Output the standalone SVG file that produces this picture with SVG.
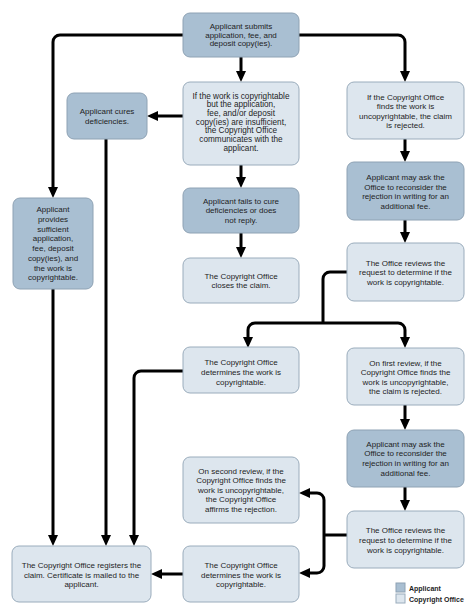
<svg xmlns="http://www.w3.org/2000/svg" width="474" height="613" viewBox="0 0 474 613">
<style>
.app{fill:#a9bfd2;stroke:#8ea2b4;stroke-width:1}
.off{fill:#dde6ee;stroke:#9aacbc;stroke-width:1}
text{font-family:"Liberation Sans",Arial,sans-serif;font-size:8px;fill:#1e1e1e;text-anchor:middle}
.big{font-size:8.2px}
.lg{font-size:7px;font-weight:bold;text-anchor:start}
.c{fill:none;stroke:#000;stroke-width:3}
.a{marker-end:url(#ah)}
</style>
<defs>
<marker id="ah" markerUnits="userSpaceOnUse" markerWidth="12" markerHeight="11" refX="3" refY="5" orient="auto">
<path d="M0,0 L11,5 L0,10 z" fill="#000"/>
</marker>
</defs>
<rect width="474" height="613" fill="#fff"/>
<g id="connectors">
<path class="c a" d="M183,35 H60 A7,7 0 0 0 53,42 V190"/>
<path class="c a" d="M299,35 H398 A7,7 0 0 1 405,42 V74"/>
<path class="c a" d="M241,57 V74"/>
<path class="c a" d="M183,116 H155"/>
<path class="c a" d="M106,139 V538"/>
<path class="c a" d="M53,289 V538"/>
<path class="c a" d="M241,165 V180"/>
<path class="c a" d="M241,233 V250"/>
<path class="c a" d="M405,139 V154"/>
<path class="c a" d="M405,220 V235"/>
<path class="c" d="M347,272 H330 A7,7 0 0 0 323,279 V323"/>
<path class="c a" d="M323,323 H255 A7,7 0 0 0 248,330 V340"/>
<path class="c a" d="M323,323 H398 A7,7 0 0 1 405,330 V340"/>
<path class="c a" d="M183,371 H141 A7,7 0 0 0 134,378 V538"/>
<path class="c a" d="M405,405 V422"/>
<path class="c a" d="M405,487 V503"/>
<path class="c" d="M347,535 H324"/>
<path class="c a" d="M324,535 V500 A7,7 0 0 0 317,493 H307"/>
<path class="c a" d="M324,535 V566 A7,7 0 0 1 317,573 H307"/>
<path class="c a" d="M183,574 H159"/>
</g>
<g id="n_submit">
<rect class="app" x="183" y="13" width="116" height="44" rx="7"/>
<text x="241" y="29">Applicant submits</text>
<text x="241" y="37.5">application, fee, and</text>
<text x="241" y="46">deposit copy(ies).</text>
</g>
<g id="n_insufficient">
<rect class="off" x="183" y="82" width="116" height="83" rx="7"/>
<text class="big" x="241" y="98.5">If the work is copyrightable</text>
<text class="big" x="241" y="107.2">but the application,</text>
<text class="big" x="241" y="115.9">fee, and/or deposit</text>
<text class="big" x="241" y="124.6">copy(ies) are insufficient,</text>
<text class="big" x="241" y="133.3">the Copyright Office</text>
<text class="big" x="241" y="142">communicates with the</text>
<text class="big" x="241" y="150.7">applicant.</text>
</g>
<g id="n_cures">
<rect class="app" x="67" y="93" width="80" height="46" rx="7"/>
<text x="107" y="114">Applicant cures</text>
<text x="107" y="123.5">deficiencies.</text>
</g>
<g id="n_reject1">
<rect class="off" x="347" y="82" width="117" height="57" rx="7"/>
<text x="405.5" y="99.5">If the Copyright Office</text>
<text x="405.5" y="109">finds the work is</text>
<text x="405.5" y="118.5">uncopyrightable, the claim</text>
<text x="405.5" y="128">is rejected.</text>
</g>
<g id="n_ask1">
<rect class="app" x="347" y="162" width="117" height="58" rx="7"/>
<text x="405.5" y="180">Applicant may ask the</text>
<text x="405.5" y="189.6">Office to reconsider the</text>
<text x="405.5" y="199.2">rejection in writing for an</text>
<text x="405.5" y="208.8">additional fee.</text>
</g>
<g id="n_review1">
<rect class="off" x="347" y="243" width="117" height="58" rx="7"/>
<text x="405.5" y="265.5">The Office reviews the</text>
<text x="405.5" y="275.2">request to determine if the</text>
<text x="405.5" y="284.9">work is copyrightable.</text>
</g>
<g id="n_fails">
<rect class="app" x="183" y="188" width="116" height="45" rx="7"/>
<text x="241" y="203.6">Applicant fails to cure</text>
<text x="241" y="213.3">deficiencies or does</text>
<text x="241" y="223">not reply.</text>
</g>
<g id="n_closes">
<rect class="off" x="183" y="258" width="116" height="45" rx="7"/>
<text x="241" y="278.5">The Copyright Office</text>
<text x="241" y="288.2">closes the claim.</text>
</g>
<g id="n_provides">
<rect class="app" x="13" y="198" width="80" height="91" rx="7"/>
<text x="53" y="212.3">Applicant</text>
<text x="53" y="222">provides</text>
<text x="53" y="231.7">sufficient</text>
<text x="53" y="241.4">application,</text>
<text x="53" y="251.1">fee, deposit</text>
<text x="53" y="260.8">copy(ies), and</text>
<text x="53" y="270.5">the work is</text>
<text x="53" y="280.2">copyrightable.</text>
</g>
<g id="n_copyrightable1">
<rect class="off" x="183" y="347" width="116" height="46" rx="7"/>
<text x="241" y="364.7">The Copyright Office</text>
<text x="241" y="374.7">determines the work is</text>
<text x="241" y="384.7">copyrightable.</text>
</g>
<g id="n_first">
<rect class="off" x="347" y="348" width="117" height="57" rx="7"/>
<text x="405.5" y="365.5">On first review, if the</text>
<text x="405.5" y="375.1">Copyright Office finds the</text>
<text x="405.5" y="384.7">work is uncopyrightable,</text>
<text x="405.5" y="394.3">the claim is rejected.</text>
</g>
<g id="n_ask2">
<rect class="app" x="347" y="430" width="117" height="57" rx="7"/>
<text x="405.5" y="446.7">Applicant may ask the</text>
<text x="405.5" y="456.3">Office to reconsider the</text>
<text x="405.5" y="465.9">rejection in writing for an</text>
<text x="405.5" y="475.5">additional fee.</text>
</g>
<g id="n_review2">
<rect class="off" x="347" y="511" width="117" height="57" rx="7"/>
<text x="405.5" y="533.2">The Office reviews the</text>
<text x="405.5" y="542.9">request to determine if the</text>
<text x="405.5" y="552.6">work is copyrightable.</text>
</g>
<g id="n_second">
<rect class="off" x="183" y="457" width="116" height="66" rx="7"/>
<text x="241" y="473.7">On second review, if the</text>
<text x="241" y="483.2">Copyright Office finds the</text>
<text x="241" y="492.7">work is uncopyrightable,</text>
<text x="241" y="502.2">the Copyright Office</text>
<text x="241" y="511.7">affirms the rejection.</text>
</g>
<g id="n_copyrightable2">
<rect class="off" x="183" y="546" width="116" height="56" rx="7"/>
<text x="241" y="568">The Copyright Office</text>
<text x="241" y="577.7">determines the work is</text>
<text x="241" y="587.4">copyrightable.</text>
</g>
<g id="n_register">
<rect class="off" x="12" y="546" width="139" height="56" rx="7"/>
<text x="81.5" y="568">The Copyright Office registers the</text>
<text x="81.5" y="577.7">claim.  Certificate is mailed to the</text>
<text x="81.5" y="587.4">applicant.</text>
</g>
<g id="legend">
<rect class="app" x="396" y="583" width="9" height="9"/>
<rect class="off" x="396" y="594" width="9" height="9"/>
<text class="lg" x="409" y="590.5">Applicant</text>
<text class="lg" x="409" y="601.5">Copyright Office</text>
</g>
</svg>
